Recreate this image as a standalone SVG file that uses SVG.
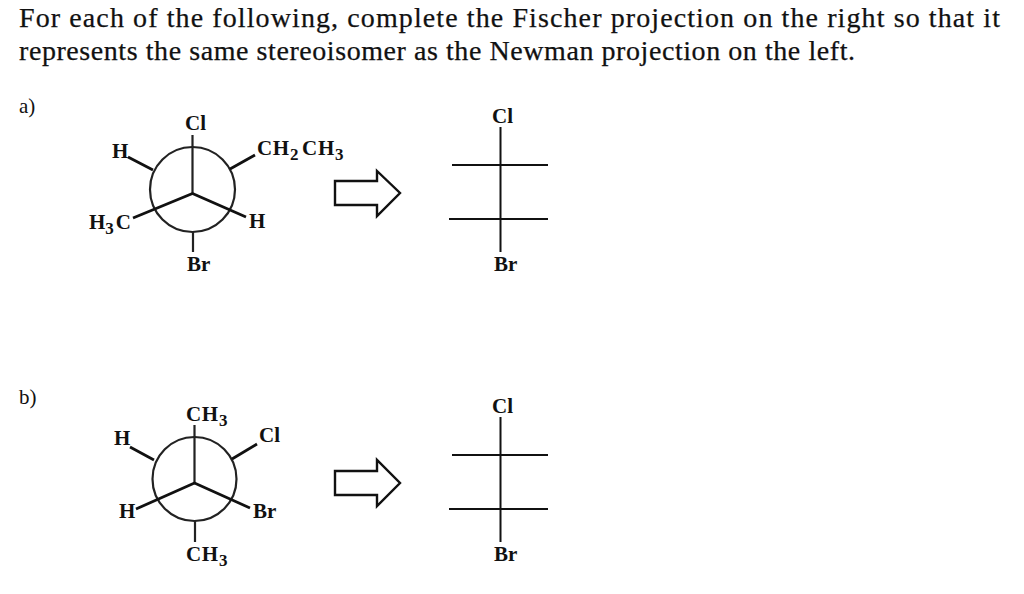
<svg xmlns="http://www.w3.org/2000/svg" width="1024" height="594" viewBox="0 0 1024 594">
<style>
.q{font-family:"Liberation Serif","Times New Roman",serif;font-size:28px;fill:#111;stroke:#111;stroke-width:.25}
.p{font-family:"Liberation Serif","Times New Roman",serif;font-size:21px;fill:#111}
.l{font-family:"Liberation Serif","Times New Roman",serif;font-size:21px;font-weight:bold;fill:#111}
.w{letter-spacing:.7px}
.s{font-size:17px}
.b{stroke:#222;stroke-width:2.2;fill:none}
.t{stroke:#111;stroke-width:2.8;fill:none}
.f{stroke:#111;stroke-width:2;fill:none}
.a{stroke:#111;stroke-width:2.4;fill:#fff;stroke-linejoin:miter}
</style>
<rect width="1024" height="594" fill="#fff"/>
<g id="question">
<text class="q" x="19" y="27" textLength="981" lengthAdjust="spacing">For each of the following, complete the Fischer projection on the right so that it</text>
<text class="q" x="19" y="60" textLength="836" lengthAdjust="spacing">represents the same stereoisomer as the Newman projection on the left.</text>
<text class="p" x="19" y="113">a)</text>
<text class="p" x="19" y="404">b)</text>
</g>
<g id="newman-a">
<circle class="b" cx="192.5" cy="189.5" r="42.5"/>
<path class="b" d="M192.5 135V193.5M193 232V252"/>
<path class="t" d="M133 218L192.5 193.5L246 217M128 157L153 170M230 169L255 155"/>
<text class="l" x="185" y="130">Cl</text>
<text class="l" x="112" y="158">H</text>
<text class="l w" x="257" y="155">CH<tspan class="s" dy="5">2</tspan><tspan dy="-5" dx="3">CH</tspan><tspan class="s" dy="5">3</tspan></text>
<text class="l" x="89" y="229">H<tspan class="s" dy="5">3</tspan><tspan dy="-5" dx="2">C</tspan></text>
<text class="l" x="249" y="228">H</text>
<text class="l" x="187" y="271">Br</text>
</g>
<g id="arrow-a"><path class="a" d="M335 181H377V171L400 193L377 216V205H335Z"/></g>
<g id="fischer-a">
<path class="f" d="M500.5 127V252M452 165H548M449 219H548"/>
<text class="l" x="492" y="123">Cl</text>
<text class="l" x="494" y="271">Br</text>
</g>
<g id="newman-b">
<circle class="b" cx="194.5" cy="479" r="42"/>
<path class="b" d="M194.5 425V483M195 521V542"/>
<path class="t" d="M136 509L194.5 483L250 508M130 447L154 460M232 459L257 444"/>
<text class="l w" x="186" y="421">CH<tspan class="s" dy="5">3</tspan></text>
<text class="l" x="114" y="445">H</text>
<text class="l" x="259" y="442">Cl</text>
<text class="l" x="119" y="518">H</text>
<text class="l" x="253" y="518">Br</text>
<text class="l w" x="186" y="561">CH<tspan class="s" dy="5">3</tspan></text>
</g>
<g id="arrow-b"><path class="a" d="M335 471H377V460L400 483L377 506V495H335Z"/></g>
<g id="fischer-b">
<path class="f" d="M500.5 417V542M452 455H548M449 509H548"/>
<text class="l" x="492" y="413">Cl</text>
<text class="l" x="494" y="561">Br</text>
</g>
</svg>
